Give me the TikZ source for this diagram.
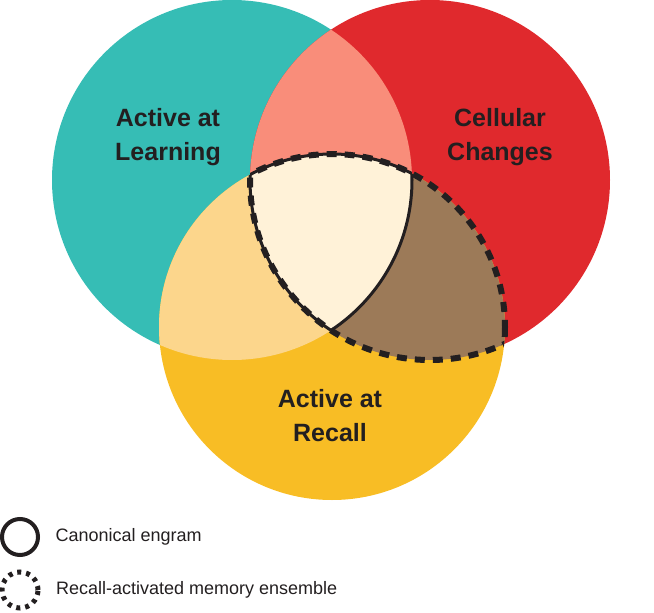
\documentclass[tikz,border=0pt]{standalone}
\usepackage{fontspec}
\setmainfont{Liberation Sans}
\usetikzlibrary{positioning}
\definecolor{tealc}{HTML}{36BDB5}
\definecolor{redc}{HTML}{E0292D}
\definecolor{yellowc}{HTML}{F8BD25}
\definecolor{salmonc}{HTML}{F98D7A}
\definecolor{lightyc}{HTML}{FCD68C}
\definecolor{brownc}{HTML}{9C7A58}
\definecolor{creamc}{HTML}{FFF2D8}
\definecolor{inkc}{HTML}{231F20}
\tikzset{
  lbl/.style={font=\bfseries\fontsize{25}{34}\selectfont, align=center, text=inkc},
  leg/.style={font=\fontsize{18}{20}\selectfont, text=inkc, anchor=west},
  engram/.style={draw=inkc, line width=3pt},
  ensemble/.style={draw=inkc, line width=6pt, dash pattern=on 10pt off 8pt}
}
\def\tealC{(232,180) circle (180)}
\def\redC{(430,180) circle (180)}
\def\yelC{(332,327) circle (173)}
\begin{document}
\begin{tikzpicture}[x=1pt,y=-1pt]
\useasboundingbox (0,0) rectangle (654,613);
% circles
\fill[tealc] \tealC;
\fill[redc] \redC;
\fill[yellowc] \yelC;
% overlaps
\begin{scope}\clip \tealC; \fill[salmonc] \redC; \fill[lightyc] \yelC; \end{scope}
\begin{scope}\clip \redC; \fill[brownc] \yelC; \end{scope}
\begin{scope}\clip \tealC; \clip \redC; \fill[creamc] \yelC; \end{scope}
% recall-activated ensemble
\begin{scope}\clip \redC; \draw[ensemble] \yelC; \end{scope}
\begin{scope}\clip \yelC; \draw[ensemble] \redC; \end{scope}
% canonical engram
\begin{scope}\clip \tealC; \clip \redC; \draw[engram] \yelC; \end{scope}
\begin{scope}\clip \tealC; \clip \yelC; \draw[engram] \redC; \end{scope}
\begin{scope}\clip \redC; \clip \yelC; \draw[engram] \tealC; \end{scope}
% labels
\node (learn) [lbl] at (168,137) {Active at\\Learning};
\node (cell) [lbl] at (500,137) {Cellular\\Changes};
\node (recall) [lbl] at (330,416) {Active at\\Recall};
% legend
\node (k1) [circle, minimum size=36pt, line width=4pt, draw=inkc] at (20,537) {};
\node (k2) [circle, minimum size=36pt, line width=5pt, draw=inkc, dash pattern=on 4pt off 5pt] at (20,590) {};
\node (t1) [leg, right=12pt of k1] {Canonical engram};
\node (t2) [leg, right=12pt of k2] {Recall-activated memory ensemble};
\end{tikzpicture}
\end{document}
